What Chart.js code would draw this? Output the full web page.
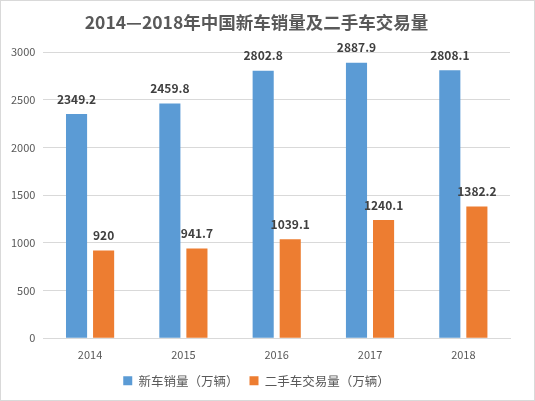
<!DOCTYPE html>
<html>
<head>
<meta charset="utf-8">
<script src="https://cdn.jsdelivr.net/npm/chart.js@4"></script>
<style>
  html, body { margin: 0; padding: 0; background: #fff; }
  #wrap { width: 533px; height: 399px; border: 1px solid #d9d9d9; }
</style>
</head>
<body>
<div id="wrap"><canvas id="c" width="533" height="399"></canvas></div>
<script>
// 数据
const years = ['2014', '2015', '2016', '2017', '2018'];
const newCarSales = [2349.2, 2459.8, 2802.8, 2887.9, 2808.1];
const usedCarTrades = [920, 941.7, 1039.1, 1240.1, 1382.2];
const seriesNames = ['新车销量（万辆）', '二手车交易量（万辆）'];

const FONT = '"Noto Sans CJK SC", "Noto Sans", sans-serif';

// 柱顶数值标签
const barLabels = {
  id: 'barLabels',
  afterDatasetsDraw(chart) {
    const ctx = chart.ctx;
    ctx.save();
    ctx.font = 'bold 12px ' + FONT;
    ctx.fillStyle = '#404040';
    ctx.textAlign = 'center';
    ctx.textBaseline = 'bottom';
    chart.data.datasets.forEach((ds, i) => {
      chart.getDatasetMeta(i).data.forEach((bar, j) => {
        ctx.fillText(String(ds.data[j]), bar.x, bar.y - 9);
      });
    });
    ctx.restore();
  }
};

new Chart(document.getElementById('c'), {
  type: 'bar',
  data: {
    labels: years,
    datasets: [{
      label: seriesNames[0],
      data: newCarSales,
      backgroundColor: '#5b9bd5'
    }, {
      label: seriesNames[1],
      data: usedCarTrades,
      backgroundColor: '#ed7d31'
    }]
  },
  options: {
    responsive: false,
    animation: false,
    layout: { padding: { left: 2, right: 24, top: 4, bottom: 3 } },
    datasets: { bar: { categoryPercentage: 0.58, barPercentage: 0.78 } },
    plugins: {
      title: {
        display: true,
        text: '2014—2018年中国新车销量及二手车交易量',
        color: '#595959',
        font: { family: FONT, size: 17.5, weight: 'bold' },
        padding: { top: 7, bottom: 19 }
      },
      legend: {
        position: 'bottom',
        labels: {
          color: '#595959',
          font: { family: FONT, size: 12.5 },
          boxWidth: 9, boxHeight: 9,
          padding: 11
        }
      },
      tooltip: { enabled: false }
    },
    scales: {
      x: {
        grid: { display: false },
        border: { color: '#d9d9d9' },
        ticks: { color: '#595959', font: { family: FONT, size: 11 }, padding: 2 }
      },
      y: {
        min: 0, max: 3000,
        ticks: {
          stepSize: 500, color: '#595959', font: { family: FONT, size: 11 }, padding: 8,
          callback: v => String(v)
        },
        grid: { color: '#d9d9d9', drawTicks: false },
        border: { display: false }
      }
    }
  },
  plugins: [barLabels]
});
</script>
</body>
</html>
